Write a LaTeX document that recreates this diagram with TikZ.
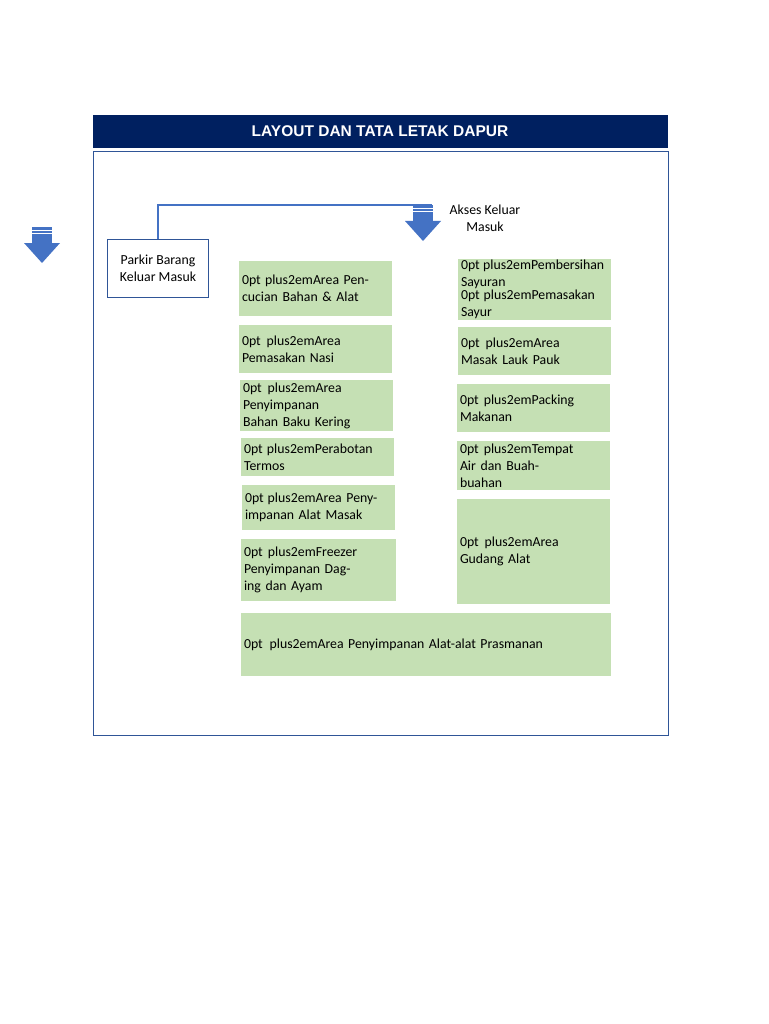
\documentclass[tikz,border=0pt]{standalone}
\usepackage{fontspec}
\setmainfont{Carlito}
\newfontfamily\titlefont{Liberation Sans}
\begin{document}
\begin{tikzpicture}[x=1pt,y=-1pt,
  g/.style={fill={rgb,255:red,197;green,224;blue,180}, draw=none, align=center, font=\fontsize{13.8}{17}\selectfont\hyphenpenalty=10000\spaceskip=0.22em plus 0.05em, inner sep=1pt},
  t/.style={align=center, font=\fontsize{13.8}{17}\selectfont}]
\definecolor{navy}{RGB}{0,32,96}
\definecolor{bl}{RGB}{47,85,151}
\definecolor{lb}{RGB}{68,114,196}
\useasboundingbox (0,0) rectangle (768,1024);
\fill[navy] (93,115) rectangle (668,148);
\node[text=white,font=\titlefont\bfseries\fontsize{15.5}{17}\selectfont] (title) at (380,131.5) {LAYOUT DAN TATA LETAK DAPUR};
\draw[bl,line width=0.9pt] (93,151) rectangle (668,735);
\newcommand\darrow[2]{%
 \fill[lb] (#1-10,#2) rectangle (#1+10,#2+16);
 \fill[lb] (#1-18,#2+16) -- (#1+18,#2+16) -- (#1,#2+36) -- cycle;
 \draw[white,line width=0.6pt] (#1-10,#2+3) -- (#1+10,#2+3) (#1-10,#2+6) -- (#1+10,#2+6);}
\darrow{42}{227}
\darrow{423}{205}
\node[t,draw=bl,line width=0.8pt,minimum width=101,minimum height=58] (parkir) at (158,268) {Parkir Barang\\Keluar Masuk};
\coordinate (c1) at (158,205);
\coordinate (c2) at (432,205);
\draw[lb,line width=1.8pt] (parkir.north) -- (c1) -- (c2);
\node[t] (akses) at (485,218) {Akses Keluar\\Masuk};
\newcommand\gb[6]{\node[g,minimum width=#3-#1,minimum height=#4-#2,text width=#3-#1-6] (#5) at ({(#1+#3)/2},{(#2+#4)/2}) {#6};}
\gb{239}{261}{392}{316}{l1}{Area Pencucian Bahan \& Alat}
\gb{239}{325}{392}{373}{l2}{Area Pemasakan Nasi}
\gb{240}{380}{393}{431}{l3}{Area Penyimpanan\\Bahan Baku Kering}
\gb{241}{438}{394}{476}{l4}{Perabotan Termos}
\gb{242}{485}{395}{530}{l5}{Area Penyimpanan Alat Masak}
\gb{241}{539}{396}{601}{l6}{Freezer Penyimpanan Daging dan Ayam}
\gb{458}{262}{611}{287}{r1}{Pembersihan Sayuran}
\gb{458}{292}{611}{317}{r2}{Pemasakan Sayur}
\gb{458}{327}{611}{375}{r3}{Area Masak Lauk Pauk}
\gb{457}{384}{610}{432}{r4}{Packing Makanan}
\gb{457}{441}{610}{490}{r5}{Tempat Air dan Buah-\\buahan}
\gb{457}{499}{610}{604}{r6}{Area Gudang Alat}
\gb{241}{613}{611}{676}{b1}{Area Penyimpanan Alat-alat Prasmanan}
\end{tikzpicture}
\end{document}
